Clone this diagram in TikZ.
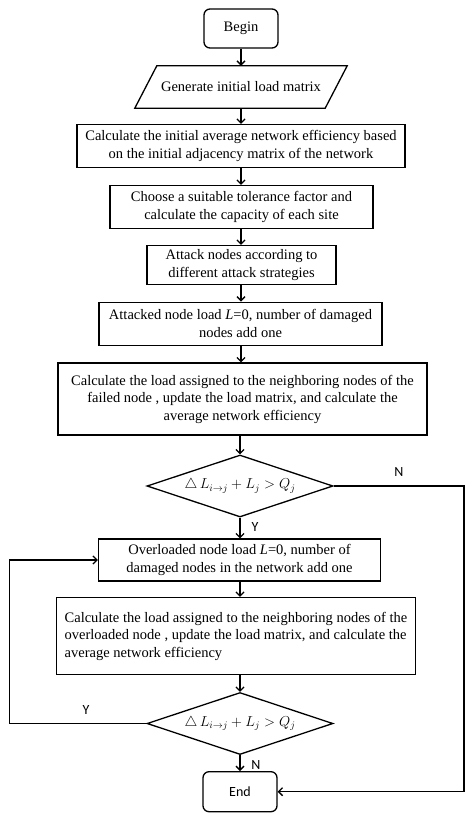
\documentclass[tikz,border=0pt]{standalone}
\usepackage{fontspec}
\setmainfont{Liberation Serif}
\newfontfamily\lblfont{Carlito}
\usetikzlibrary{shapes.geometric,arrows.meta}
\begin{document}
\begin{tikzpicture}[x=1pt,y=-1pt,
  txt/.style={font=\fontsize{14.5}{17.5}\selectfont},
  proc/.style={draw,line width=1.3pt,inner sep=0pt,align=center,txt},
  arr/.style={line width=1.3pt,-{Straight Barb[length=4pt,width=8pt]}},
  term/.style={draw,line width=1.3pt,rounded corners=6pt,minimum width=74pt,minimum height=39pt,inner sep=0pt},
  dec/.style={draw,diamond,aspect=3,line width=1.3pt,inner sep=0pt,minimum width=186pt,minimum height=62pt,font=\fontsize{14}{16}\selectfont},
  yn/.style={font=\lblfont\fontsize{14}{16}\selectfont}]
\useasboundingbox (0,0) rectangle (474,819);
\fill[white] (0,0) rectangle (474,819);

\node[term,txt] (begin) at (241,28.5) {Begin};
\node[txt,minimum width=190pt,minimum height=42pt,inner sep=0pt] (par) at (241,87) {Generate initial load matrix};
\draw[line width=1.3pt] ([xshift=11pt]par.north west) -- ([xshift=11pt]par.north east) -- ([xshift=-11pt]par.south east) -- ([xshift=-11pt]par.south west) -- cycle;
\node[proc,minimum width=328pt,minimum height=43pt] (calc) at (241,146) {Calculate the initial average network efficiency based\\on the initial adjacency matrix of the network};
\node[proc,minimum width=263pt,minimum height=43pt] (choose) at (241.5,207) {Choose a suitable tolerance factor and\\calculate the capacity of each site};
\node[proc,minimum width=189pt,minimum height=39pt] (attack) at (241.5,265) {Attack nodes according to\\different attack strategies};
\node[proc,minimum width=283pt,minimum height=43pt] (attacked) at (240.5,323.7) {Attacked node load \textit{L}=0, number of damaged\\nodes add one};
\node[proc,minimum width=369pt,minimum height=72pt] (load1) at (242.5,399) {Calculate the load assigned to the neighboring nodes of the\\failed node , update the load matrix, and calculate the\\average network efficiency};
\node[dec] (d1) at (240,486) {$\triangle\, L_{i\rightarrow j}+L_j>Q_j$};
\node[proc,minimum width=282pt,minimum height=42pt] (over) at (239.5,560) {Overloaded node load \textit{L}=0, number of\\damaged nodes in the network add one};
\node[proc,minimum width=359pt,minimum height=77pt,align=left] (load2) at (236,636) {Calculate the load assigned to the neighboring nodes of the\\overloaded node , update the load matrix, and calculate the\\average network efficiency};
\node[dec] (d2) at (240,723.5) {$\triangle\, L_{i\rightarrow j}+L_j>Q_j$};
\node[term,minimum height=40pt,font=\lblfont\fontsize{14}{16}\selectfont] (end) at (240,791.7) {End};

\coordinate (nr) at (464,0);
\coordinate (nl) at (9.5,0);

\draw[arr] (begin.south) -- (begin.south |- par.north);
\draw[arr] (par.south) -- (par.south |- calc.north);
\draw[arr] (calc.south) -- (calc.south |- choose.north);
\draw[arr] (choose.south -| calc.south) -- (calc.south |- attack.north);
\draw[arr] (attack.south -| calc.south) -- (calc.south |- attacked.north);
\draw[arr] (attacked.south -| calc.south) -- (calc.south |- load1.north);
\draw[arr] (load1.south -| d1.north) -- (d1.north);
\draw[arr] (d1.south) -- (d1.south |- over.north);
\draw[arr] (over.south -| d1.south) -- (d1.south |- load2.north);
\draw[arr] (load2.south -| d2.north) -- (d2.north);
\draw[arr] (d2.south) -- (end.north);
\draw[arr] (d1.east) -- (d1.east -| nr) -- (nr |- end.east) -- (end.east);
\draw[arr] (d2.west) -- (d2.west -| nl) -- (nl |- over.west) -- (over.west);

\node[yn] (n1) at (399,472) {N};
\node[yn] (y1) at (255,527) {Y};
\node[yn] (y2) at (86,710) {Y};
\node[yn] (n2) at (256,765) {N};
\end{tikzpicture}
\end{document}
